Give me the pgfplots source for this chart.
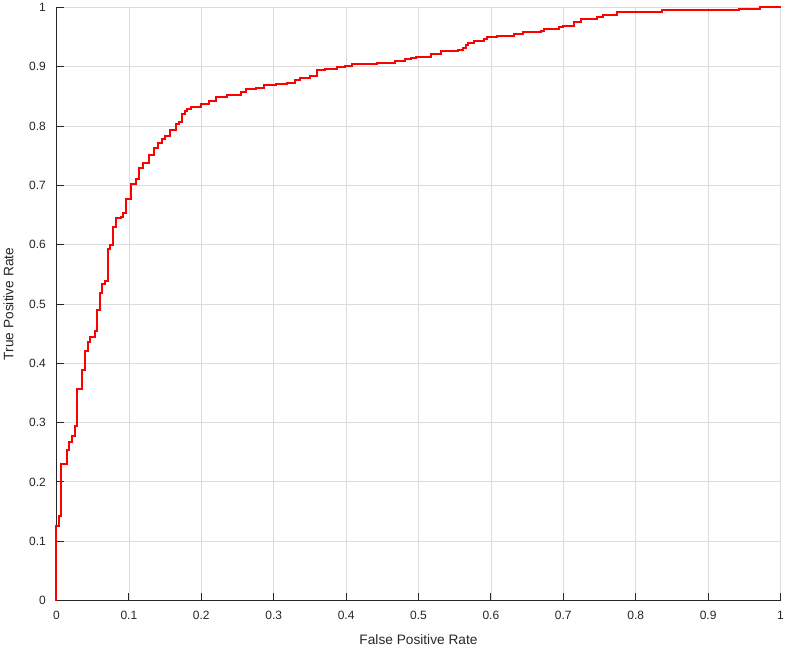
\documentclass[border=0pt]{standalone}
\usepackage{pgfplots}
\pgfplotsset{compat=1.18}
\usepackage{fontspec}
\setmainfont{Liberation Sans}
\pgfplotstableread{
x y
0 0
0 0.125
0.0032 0.143
0.0068 0.230
0.0142 0.254
0.0174 0.268
0.0210 0.277
0.0251 0.294
0.0283 0.356
0.0356 0.389
0.0388 0.420
0.0429 0.436
0.0461 0.444
0.0534 0.455
0.0566 0.490
0.0603 0.519
0.0635 0.534
0.0671 0.538
0.0708 0.593
0.0744 0.600
0.0781 0.630
0.0817 0.645
0.0890 0.647
0.0922 0.654
0.0959 0.677
0.1027 0.702
0.1092 0.711
0.1138 0.730
0.1198 0.738
0.1276 0.751
0.1345 0.763
0.1405 0.772
0.1460 0.779
0.1497 0.783
0.1561 0.794
0.1644 0.803
0.1690 0.807
0.1736 0.820
0.1773 0.825
0.1805 0.829
0.1851 0.833
0.1989 0.837
0.2104 0.843
0.2206 0.849
0.2358 0.852
0.2542 0.857
0.2611 0.862
0.2749 0.865
0.2864 0.869
0.3025 0.871
0.3186 0.873
0.3301 0.877
0.3361 0.881
0.3508 0.884
0.3600 0.894
0.3715 0.897
0.3876 0.899
0.3991 0.901
0.4083 0.904
0.4428 0.907
0.467 0.910
0.481 0.913
0.489 0.915
0.497 0.917
0.517 0.921
0.531 0.926
0.554 0.929
0.561 0.932
0.566 0.936
0.569 0.940
0.577 0.943
0.591 0.947
0.594 0.950
0.609 0.952
0.632 0.955
0.644 0.958
0.669 0.960
0.673 0.963
0.694 0.967
0.700 0.969
0.715 0.975
0.725 0.980
0.747 0.984
0.755 0.988
0.774 0.992
0.822 0.993
0.836 0.995
0.943 0.997
0.971 1.0
1.0 1.0
}\roc
\definecolor{gridgray}{HTML}{DCDCDC}
\definecolor{axgray}{HTML}{262626}
\begin{document}
\begin{tikzpicture}
\useasboundingbox (0,0) rectangle (785pt,646pt);
\begin{axis}[
  at={(56.5pt,45.5pt)}, anchor=south west,
  scale only axis, width=724pt, height=593pt,
  xmin=0, xmax=1, ymin=0, ymax=1,
  xtick={0,0.1,...,1}, ytick={0,0.1,...,1},
  xticklabels={0,0.1,0.2,0.3,0.4,0.5,0.6,0.7,0.8,0.9,1},
  yticklabels={0,0.1,0.2,0.3,0.4,0.5,0.6,0.7,0.8,0.9,1},
  axis x line*=bottom, axis y line*=left,
  axis line style={axgray, line width=1pt},
  tick align=inside, major tick length=7.5pt,
  tick style={axgray, line width=0.9pt},
  grid=major, major grid style={gridgray, line width=0.8pt},
  xticklabel style={inner sep=0pt, anchor=north, yshift=-10.5pt, font=\fontsize{12}{14}\selectfont, text=black!85},
  yticklabel style={inner sep=0pt, anchor=east, xshift=-10.5pt, font=\fontsize{12}{14}\selectfont, text=black!85},
  xlabel={False Positive Rate}, ylabel={True Positive Rate},
  xlabel style={at={(axis description cs:0.5,-0.0742)}, anchor=base, inner sep=0pt, font=\fontsize{13.7}{16}\selectfont, text=black!85},
  ylabel style={at={(axis description cs:-0.0665,0.5)}, anchor=center, inner sep=0pt, font=\fontsize{13.7}{16}\selectfont, text=black!85},
  clip=false,
]
\addplot[const plot, red, line width=2pt] table[x=x, y=y] {\roc};
\end{axis}
\end{tikzpicture}
\end{document}
